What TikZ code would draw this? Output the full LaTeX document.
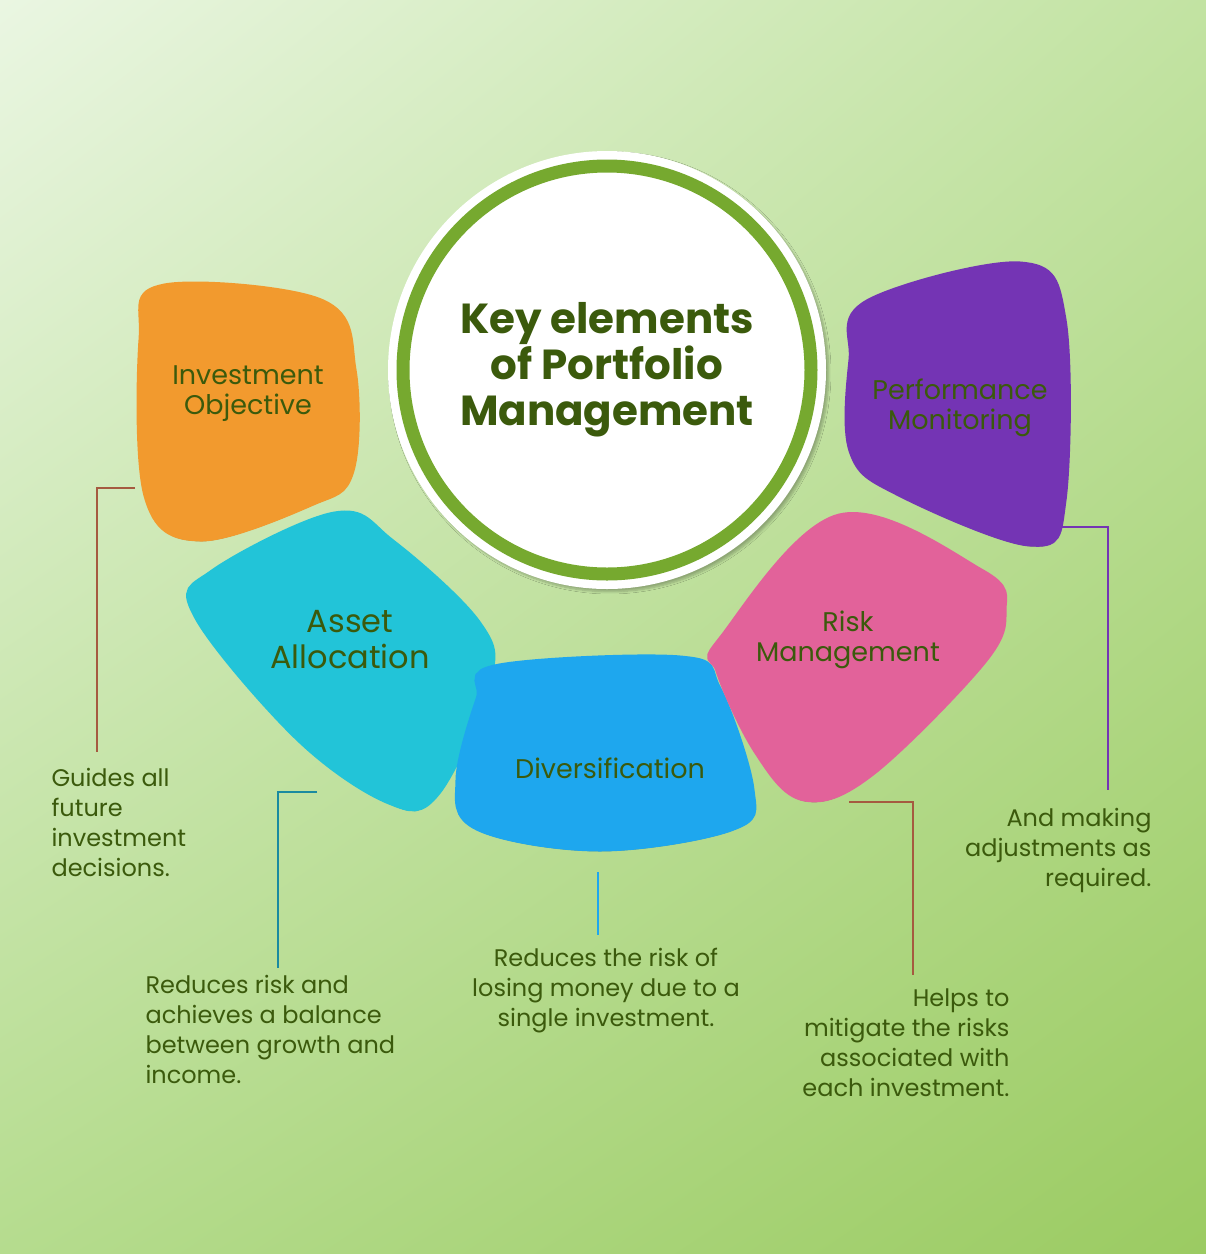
\documentclass[tikz,border=0pt]{standalone}
\usepackage{fontspec}
\setmainfont{Poppins}
\usetikzlibrary{shadows.blur,shadings}
\definecolor{tx}{HTML}{3B5A0C}
\definecolor{cO}{HTML}{F29A2E}
\definecolor{cP}{HTML}{7434B4}
\definecolor{cA}{HTML}{22C4D8}
\definecolor{cD}{HTML}{1EA7EE}
\definecolor{cR}{HTML}{E2629A}
\definecolor{cG}{HTML}{76A92F}
\definecolor{br}{HTML}{A55A40}
\definecolor{tl}{HTML}{1A8AA0}
\definecolor{bg1}{HTML}{EAF6E2}
\definecolor{bg2}{HTML}{C2E3A2}
\definecolor{bg3}{HTML}{B5DC8E}
\definecolor{bg4}{HTML}{9BCB62}
\tikzset{blob/.style={line width=13pt,fill=white,blur shadow={shadow blur steps=8,shadow xshift=0pt,shadow yshift=-4pt,shadow opacity=25}},
lbl/.style={text=tx,font=\fontsize{27}{30}\selectfont,align=center},
desc/.style={text=tx,font=\fontsize{24}{30}\selectfont},
con/.style={line width=2.5pt}}
\begin{document}
\begin{tikzpicture}[x=1pt,y=-1pt]
\shade[upper left=bg1,upper right=bg2,lower left=bg3,lower right=bg4] (0,0) rectangle (1206,1254);
\useasboundingbox (0,0) rectangle (1206,1254);
% center
\fill[white,blur shadow={shadow blur steps=8,shadow opacity=25}] (607,370) circle (219);
\draw[cG,line width=13pt] (607,370) circle (204);
\node[text=tx,font=\bfseries\fontsize{42}{46}\selectfont,align=center] (c) at (607,370) {Key elements\\of Portfolio\\Management};
% blobs
\draw[blob,cO] plot[smooth cycle,tension=0.6] coordinates {(165,290)(320,305)(350,370)(348,470)(310,500)(200,535)(150,495)(145,340)};
\node[lbl] (io) at (248,394) {Investment\\Objective};
\draw[blob,cP] plot[smooth cycle,tension=0.6] coordinates {(870,305)(1020,268)(1060,320)(1060,500)(1030,540)(900,490)(855,450)(855,360)};
\node[lbl] (pm) at (960,408) {Performance\\Monitoring};
\draw[blob,cA] plot[smooth cycle,tension=0.6] coordinates {(215,575)(335,518)(390,545)(475,625)(485,680)(435,790)(390,798)(300,735)(200,615)};
\node[lbl,font=\fontsize{32}{36}\selectfont] (aa) at (350,640) {Asset\\Allocation};
\draw[blob,cD] plot[smooth cycle,tension=0.6] coordinates {(500,670)(680,662)(715,690)(748,790)(730,825)(600,845)(480,825)(462,780)(482,700)};
\node[lbl] (dv) at (610,768) {Diversification};
\draw[blob,cR] plot[smooth cycle,tension=0.6] coordinates {(725,640)(840,520)(980,575)(1000,610)(980,660)(870,770)(805,795)(760,750)(722,670)};
\node[lbl] (rm) at (848,640) {Risk\\Management};
% descriptions
\node[desc,anchor=north west,align=left] (d1) at (48,765) {Guides all\\future\\investment\\decisions.};
\node[desc,anchor=north west,align=left] (d2) at (142,972) {Reduces risk and\\achieves a balance\\between growth and\\income.};
\node[desc,anchor=north,align=center] (d3) at (606,945) {Reduces the risk of\\losing money due to a\\single investment.};
\node[desc,anchor=north east,align=right] (d4) at (1013,985) {Helps to\\mitigate the risks\\associated with\\each investment.};
\node[desc,anchor=north east,align=right] (d5) at (1155,805) {And making\\adjustments as\\required.};
% connectors
\coordinate (a1) at (135,488); \coordinate (a2) at (97,752);
\draw[con,br] (a1) -| (a2);
\coordinate (b1) at (317,792); \coordinate (b2) at (278,968);
\draw[con,tl] (b1) -| (b2);
\coordinate (e1) at (598,872); \coordinate (e2) at (598,935);
\draw[con,cD] (e1) -- (e2);
\coordinate (f1) at (849,802); \coordinate (f2) at (913,975);
\draw[con,br] (f1) -| (f2);
\coordinate (g1) at (1055,527); \coordinate (g2) at (1108,790);
\draw[con,cP] (g1) -| (g2);
\end{tikzpicture}
\end{document}
